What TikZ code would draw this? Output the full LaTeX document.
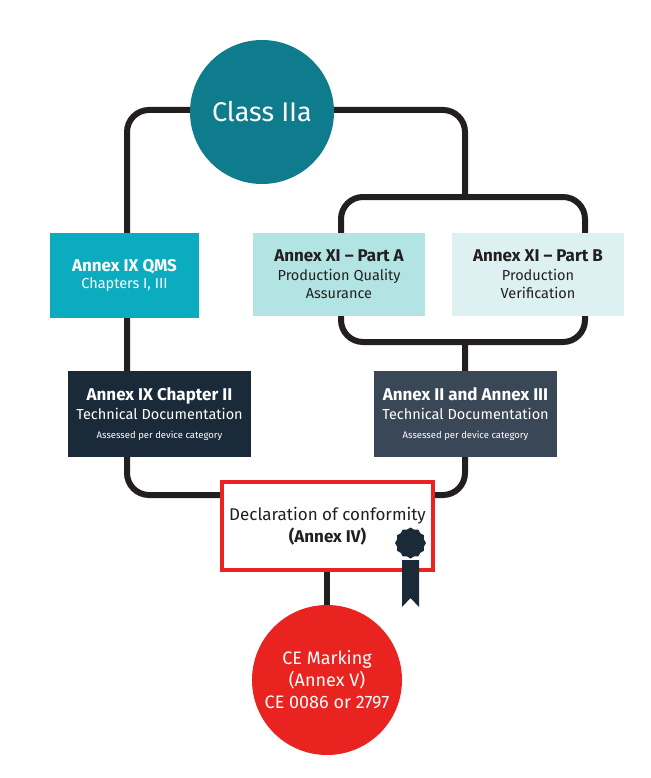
\documentclass[tikz,border=0pt]{standalone}
\usepackage{fontspec}
\setmainfont{Fira Sans}
\usetikzlibrary{shapes.geometric}
\definecolor{teal1}{HTML}{0E7C8C}
\definecolor{cyan1}{HTML}{0BABC0}
\definecolor{lt1}{HTML}{B3E4E4}
\definecolor{lt2}{HTML}{DDF1F2}
\definecolor{navy}{HTML}{1B2A38}
\definecolor{slate}{HTML}{3A4756}
\definecolor{red1}{HTML}{E9231F}
\definecolor{ink}{HTML}{231F20}
\newcommand\ttl{\fontsize{17}{19}\selectfont\bfseries}
\newcommand\sbt{\fontsize{14.5}{19}\selectfont\mdseries}
\newcommand\tny{\fontsize{9.5}{19}\selectfont\mdseries}
\begin{document}
\begin{tikzpicture}[x=1pt,y=-1pt,
  ln/.style={draw=ink,line width=6pt,rounded corners=22pt},
  bx/.style={rectangle,inner sep=0pt,align=center,font=\fontsize{14.5}{19}\selectfont}]
\useasboundingbox (0,0) rectangle (650,778);
\draw[ln] (262,110) -- (127,110) -- (127,495) -- (222,495);
\draw[ln] (262,110) -- (465,110) -- (465,197);
\draw[ln] (341,197) rectangle (585,342);
\draw[ln] (465,342) -- (465,495) -- (433,495);
\draw[draw=ink,line width=6pt] (327,572) -- (327,610);
\node[circle,fill=teal1,minimum size=144pt,inner sep=0pt,text=white,font=\fontsize{27}{30}\selectfont] (c) at (262,112) {Class IIa};
\node[bx,fill=cyan1,minimum width=149pt,minimum height=85pt,text=white] (q) at (124.5,275.5) {\ttl Annex IX QMS\\[-2pt]\sbt Chapters I, III};
\node[bx,fill=lt1,minimum width=172pt,minimum height=83pt,text=ink] (a) at (339,274.5) {\ttl Annex XI – Part A\\\sbt Production Quality\\[-1pt]\sbt Assurance};
\node[bx,fill=lt2,minimum width=172pt,minimum height=83pt,text=ink] (b) at (538,274.5) {\ttl Annex XI – Part B\\\sbt Production\\[-1pt]\sbt Verification};
\node[bx,fill=navy,minimum width=183pt,minimum height=86pt,text=white] (d) at (159.5,414) {\ttl Annex IX Chapter II\\\sbt Technical Documentation\\\tny Assessed per device category};
\node[bx,fill=slate,minimum width=183pt,minimum height=86pt,text=white] (e) at (465.5,414) {\ttl Annex II and Annex III\\\sbt Technical Documentation\\\tny Assessed per device category};
\node[bx,fill=white,draw=red1,line width=4pt,minimum width=211pt,minimum height=88pt,text=ink] (f) at (327.5,526) {\fontsize{17}{20}\selectfont Declaration of conformity\\[3pt]\ttl (Annex IV)};
\node[circle,fill=red1,minimum size=150pt,inner sep=0pt,text=white,align=center,font=\fontsize{18}{22}\selectfont] (g) at (327,680) {CE Marking\\(Annex V)\\CE 0086 or 2797};
\fill[navy] (402,560) -- (402,607) -- (410.5,598) -- (419,607) -- (419,560) -- cycle;
\node[star,star points=12,star point ratio=1.12,fill=navy,minimum size=31pt,inner sep=0pt] (r) at (410.5,543) {};
\end{tikzpicture}
\end{document}
